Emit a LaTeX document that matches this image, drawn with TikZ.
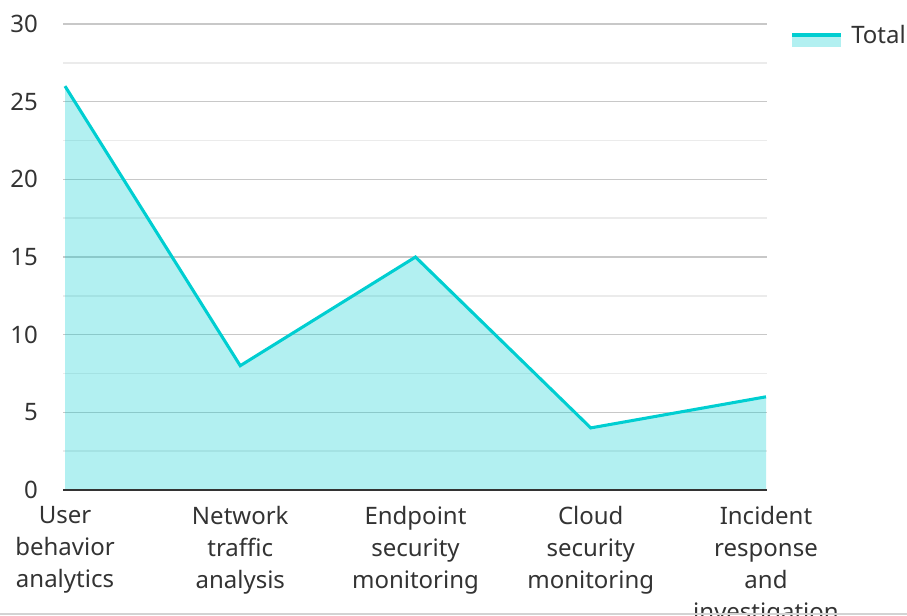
\documentclass[tikz,border=0pt]{standalone}
\usepackage{fontspec}
\setmainfont{Noto Sans}
\usetikzlibrary{positioning,calc}
\definecolor{lineTeal}{HTML}{00CED1}
\definecolor{gridMajor}{HTML}{C8C8C8}
\definecolor{gridMinor}{HTML}{EBEBEB}
\definecolor{axisInk}{HTML}{333333}
\definecolor{textInk}{HTML}{333333}
\definecolor{frameGray}{HTML}{D3D3D3}

\begin{document}
\begin{tikzpicture}[
  x=0.75pt, y=-0.75pt,
  font=\fontsize{18}{24}\selectfont,
  every node/.style={inner sep=0pt, text=textInk},
  % --- Reusable styles -------------------------------------------------------
  majorgrid/.style={draw=gridMajor, line width=1.1pt},
  minorgrid/.style={draw=gridMinor, line width=1.1pt},
  baseaxis/.style={draw=axisInk, line width=2pt},
  totalline/.style={draw=lineTeal, line width=2.3pt, line join=miter},
  areafill/.style={fill=lineTeal, fill opacity=0.3},
  ylbl/.style={anchor=east},
  xlbl/.style={anchor=north, align=center},
]
\useasboundingbox (0,0) rectangle (907,615);
\clip (0,0) rectangle (907,615);

% --- Grid --------------------------------------------------------------------
\foreach \gy in {451.2,373.5,295.8,218.2,140.5,62.8}
  \draw[minorgrid] (63,\gy) -- (767,\gy);
\foreach \gy in {412.3,334.7,257,179.3,101.7,24}
  \draw[majorgrid] (63,\gy) -- (767,\gy);

% --- Data points -------------------------------------------------------------
\coordinate (b1) at (65,490);
\coordinate (p1) at (65,86.1);
\coordinate (p2) at (240.25,365.7);
\coordinate (p3) at (415.5,257);
\coordinate (p4) at (590.75,427.9);
\coordinate (p5) at (766,396.8);
\coordinate (b5) at (766,490);

\fill[areafill] (b1) -- (p1) -- (p2) -- (p3) -- (p4) -- (p5) -- (b5) -- cycle;
\draw[totalline] (p1) -- (p2) -- (p3) -- (p4) -- (p5);
\draw[baseaxis] (63,490) -- (767,490);

% --- Axis labels -------------------------------------------------------------
\foreach \v/\gy in {0/490,5/412.3,10/334.7,15/257,20/179.3,25/101.7,30/24}
  \node[ylbl] (y\v) at (38,\gy) {\v};

\node[xlbl] (x1) at (65,506)     {User\\behavior\\analytics};
\node[xlbl] (x2) at (240.25,506) {Network\\traffic\\analysis};
\node[xlbl] (x3) at (415.5,506)  {Endpoint\\security\\monitoring};
\node[xlbl] (x4) at (590.75,506) {Cloud\\security\\monitoring};
\node[xlbl] (x5) at (766,506)    {Incident\\response\\and\\investigation};

% --- Legend ------------------------------------------------------------------
\coordinate (legL) at (792,35);
\coordinate (legR) at (841,35);
\fill[areafill] (legL) rectangle ($(legR)+(0,12)$);
\draw[totalline] (legL) -- (legR);
\node[anchor=base west] (legtxt) at (851,43) {Total};

% --- Bottom frame ------------------------------------------------------------
\fill[frameGray] (0,612.5) rectangle (907,615);

\end{tikzpicture}
\end{document}
